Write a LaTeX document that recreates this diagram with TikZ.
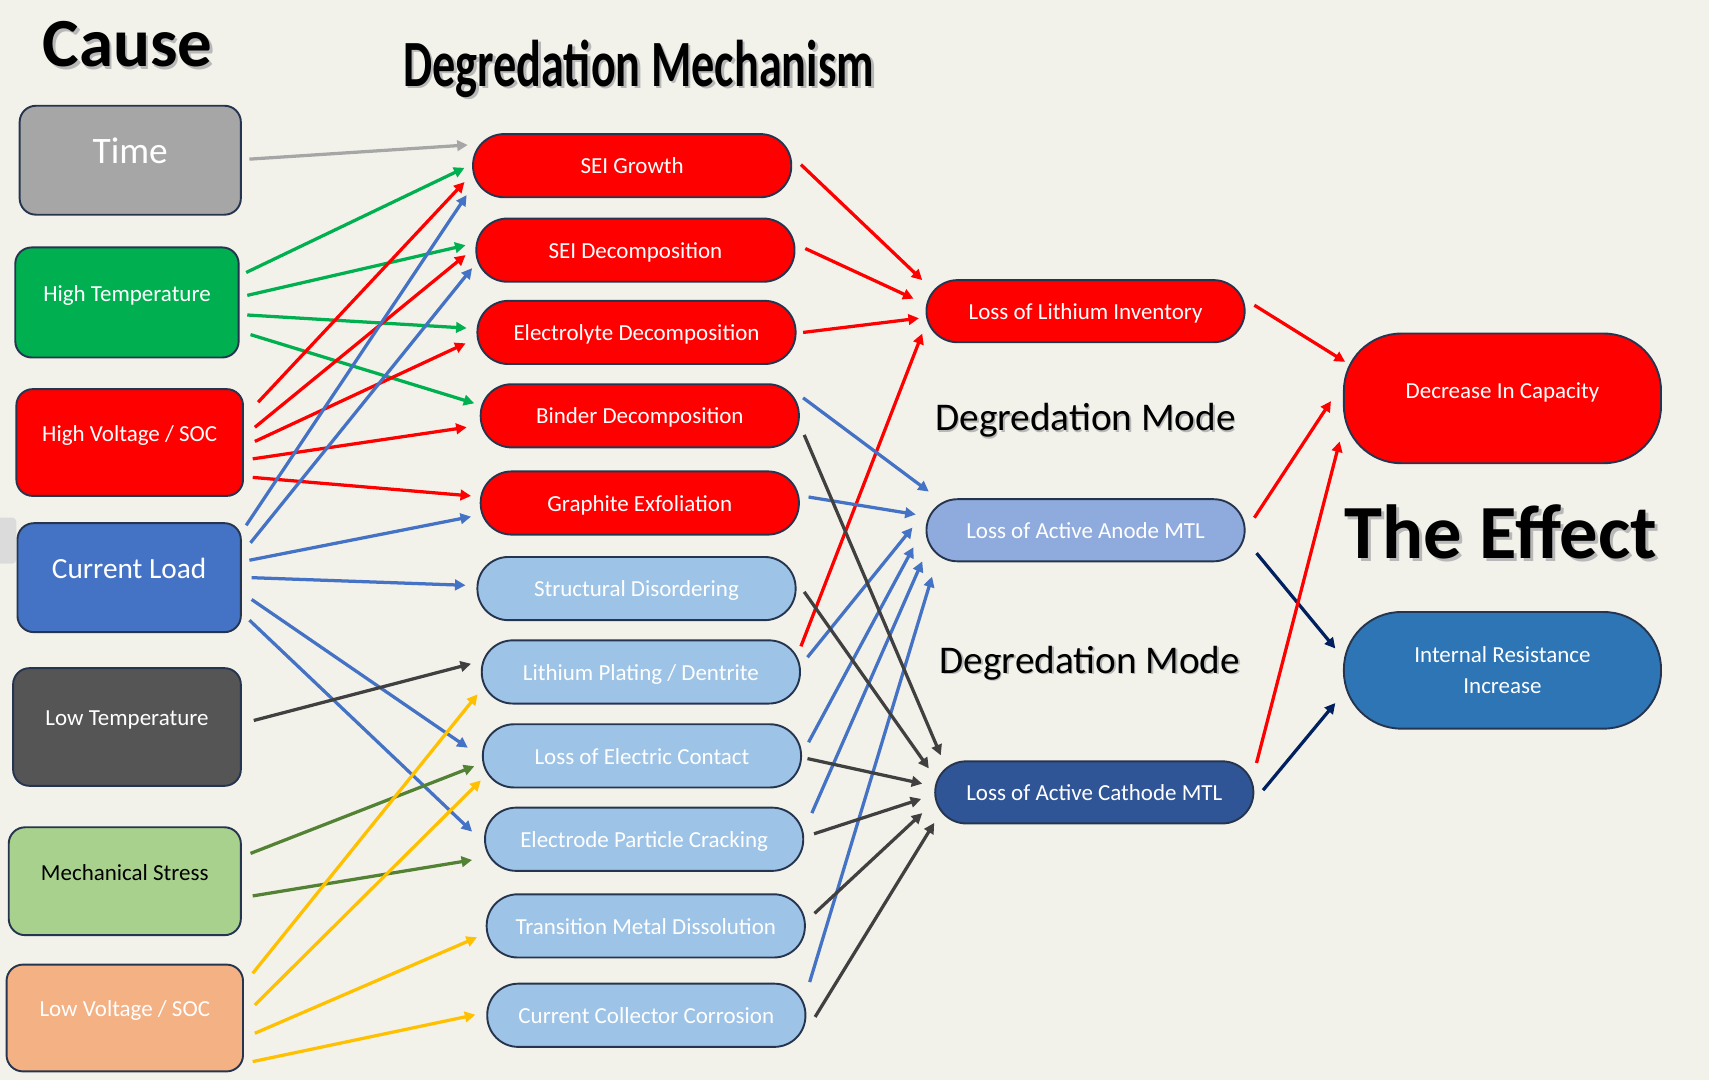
\documentclass[tikz,border=0pt]{standalone}
\usepackage{fontspec}
\setmainfont{Carlito}
\newfontfamily\narrowfont[FakeStretch=0.7]{Carlito}
\usepackage{tikz}
\usetikzlibrary{arrows.meta,positioning}
\definecolor{paper}{HTML}{F3F2EA}
\definecolor{rim}{HTML}{26354F}
\definecolor{timegray}{HTML}{A6A6A6}
\definecolor{hotgreen}{HTML}{00B050}
\definecolor{loadblue}{HTML}{4472C4}
\definecolor{coldgray}{HTML}{555555}
\definecolor{stressgreen}{HTML}{A9D18E}
\definecolor{lvorange}{HTML}{F4B183}
\definecolor{mechblue}{HTML}{9DC3E6}
\definecolor{anodeblue}{HTML}{8FAADC}
\definecolor{cathblue}{HTML}{2F5597}
\definecolor{resblue}{HTML}{2E75B6}
\definecolor{darkline}{HTML}{404040}
\definecolor{stressline}{HTML}{548235}
\definecolor{lvyellow}{HTML}{FFC000}
\definecolor{navyline}{HTML}{002060}
\newcommand\shadowed[1]{\leavevmode\rlap{\kern0.04em\raisebox{-0.04em}{\color{black!28}#1}}#1}

\begin{document}
\begin{tikzpicture}[x=0.02cm,y=-0.02cm,
  cause/.style={draw=rim,line width=1pt,rounded corners=0.3cm,inner sep=0pt,text=white,
    text height=0.28cm,text depth=0.32cm,font=\fontsize{12}{14}\selectfont},
  mech/.style={draw=rim,line width=1pt,rounded corners=0.57cm,inner sep=0pt,text=white,
    minimum width=5.84cm,minimum height=1.16cm,text height=0.3cm,text depth=0cm,
    font=\fontsize{12}{14}\selectfont},
  effect/.style={draw=rim,line width=1pt,rounded corners=1.05cm,inner sep=0pt,text=white,
    minimum width=5.82cm,align=center,font=\fontsize{12}{16}\selectfont},
  heading/.style={anchor=base,inner sep=0pt},
  ar/.style={line width=1.7pt,-{Triangle[length=5.5pt,width=5.5pt]}}]
\fill[paper] (0,0) rectangle (1568,991);
\useasboundingbox (0,0) rectangle (1568,991);
\fill[black!14,rounded corners=2pt] (-6,475) rectangle (15,517);

\node[heading,font=\bfseries\fontsize{36}{40}\selectfont] (tcause) at (117,61) {\shadowed{Cause}};
\node[heading,font=\narrowfont\bfseries\fontsize{34.5}{38}\selectfont] (tmech) at (586,79) {\shadowed{Degredation Mechanism}};
\node[heading,font=\fontsize{20.5}{24}\selectfont] (tmode1) at (996,395) {\shadowed{Degredation Mode}};
\node[heading,font=\fontsize{20.5}{24}\selectfont] (tmode2) at (1000,617.5) {\shadowed{Degredation Mode}};
\node[heading,font=\bfseries\fontsize{40}{44}\selectfont] (teffect) at (1377,512) {\shadowed{The Effect}};

\node[cause,fill=timegray,minimum width=4.06cm,minimum height=2cm,text height=0.43cm,
  font=\fontsize{19.5}{22}\selectfont] (tm) at (119.5,147) {Time};
\node[cause,fill=hotgreen,minimum width=4.1cm,minimum height=2.02cm] (ht) at (116.5,277.5) {High Temperature};
\node[cause,fill=red,minimum width=4.16cm,minimum height=1.96cm] (hv) at (119,406) {High Voltage / SOC};
\node[cause,fill=loadblue,minimum width=4.1cm,minimum height=2cm,text height=0.34cm,
  font=\fontsize{15.3}{18}\selectfont] (cl) at (118.5,530) {Current Load};
\node[cause,fill=coldgray,minimum width=4.18cm,minimum height=2.16cm] (lt) at (116.5,667) {Low Temperature};
\node[cause,fill=stressgreen,text=black,minimum width=4.26cm,minimum height=1.98cm] (ms) at (114.5,808.5) {Mechanical Stress};
\node[cause,fill=lvorange,minimum width=4.34cm,minimum height=1.96cm] (lv) at (114.5,934) {Low Voltage / SOC};

\node[mech,fill=red] (sg) at (580,152) {SEI Growth};
\node[mech,fill=red] (sd) at (583,229.5) {SEI Decomposition};
\node[mech,fill=red] (ed) at (584,305) {Electrolyte Decomposition};
\node[mech,fill=red] (bd) at (587,381.5) {Binder Decomposition};
\node[mech,fill=red] (gx) at (587,461.5) {Graphite Exfoliation};
\node[mech,fill=mechblue] (sdo) at (584,540) {Structural Disordering};
\node[mech,fill=mechblue] (lp) at (588,616.5) {Lithium Plating / Dentrite};
\node[mech,fill=mechblue] (lec) at (589,693.5) {Loss of Electric Contact};
\node[mech,fill=mechblue] (epc) at (591,770) {Electrode Particle Cracking};
\node[mech,fill=mechblue] (tmd) at (592.5,849.5) {Transition Metal Dissolution};
\node[mech,fill=mechblue] (ccc) at (593,931.5) {Current Collector Corrosion};

\node[mech,fill=red,minimum height=1.14cm] (lli) at (996,285.5) {Loss of Lithium Inventory};
\node[mech,fill=anodeblue,minimum height=1.14cm] (laa) at (996,486.5) {Loss of Active Anode MTL};
\node[mech,fill=cathblue,minimum height=1.14cm] (lac) at (1004,727) {Loss of Active Cathode MTL};

\node[effect,fill=red,minimum height=2.38cm,text height=0.28cm,text depth=0.28cm] (cap) at (1378.5,365.5) {Decrease In Capacity};
\node[effect,fill=resblue,minimum height=2.14cm] (res) at (1378.5,615) {Internal Resistance\\Increase};

\draw[ar,timegray] ([shift={(7,-1)}]tm.east) -- ([shift={(-4,-19)}]sg.west);

\draw[ar,hotgreen] ([shift={(6,-27.5)}]ht.east) -- ([shift={(-7,2)}]sg.west);
\draw[ar,hotgreen] ([shift={(7,-6.5)}]ht.east) -- ([shift={(-9,-4.5)}]sd.west);
\draw[ar,hotgreen] ([shift={(7,11.5)}]ht.east) -- ([shift={(-9,-4)}]ed.west);
\draw[ar,hotgreen] ([shift={(10,29.5)}]ht.east) -- ([shift={(-5,-11.5)}]bd.west);

\draw[ar,red] ([shift={(13,-37)}]hv.east) -- ([shift={(-7,15)}]sg.west);
\draw[ar,red] ([shift={(10,-14)}]hv.east) -- ([shift={(-9,4.5)}]sd.west);
\draw[ar,red] ([shift={(10,-1)}]hv.east) -- ([shift={(-10,10)}]ed.west);
\draw[ar,red] ([shift={(8,15)}]hv.east) -- ([shift={(-12,10.5)}]bd.west);
\draw[ar,red] ([shift={(8,32)}]hv.east) -- ([shift={(-8,-6.5)}]gx.west);

\draw[ar,loadblue] ([shift={(4,-48)}]cl.east) -- ([shift={(-5,27)}]sg.west);
\draw[ar,loadblue] ([shift={(8,-32)}]cl.east) -- ([shift={(-3,16.5)}]sd.west);
\draw[ar,loadblue] ([shift={(7,-16)}]cl.east) -- ([shift={(-8,12.5)}]gx.west);
\draw[ar,loadblue] ([shift={(9,0)}]cl.east) -- ([shift={(-10,-3)}]sdo.west);
\draw[ar,loadblue] ([shift={(9,20)}]cl.east) -- ([shift={(-13,-7.5)}]lec.west);
\draw[ar,loadblue] ([shift={(7,39)}]cl.east) -- ([shift={(-11,-7)}]epc.west);

\draw[ar,darkline] ([shift={(11,-6)}]lt.east) -- ([shift={(-9,-7.5)}]lp.west);

\draw[ar,stressline] ([shift={(8,-25.5)}]ms.east) -- ([shift={(-7,9.5)}]lec.west);
\draw[ar,stressline] ([shift={(10,13.5)}]ms.east) -- ([shift={(-11,19)}]epc.west);

\draw[ar,lvyellow] ([shift={(8,-41)}]lv.east) -- ([shift={(-3,20.5)}]lp.west);
\draw[ar,lvyellow] ([shift={(10,-12)}]lv.east) -- ([shift={(-1,22.5)}]lec.west);
\draw[ar,lvyellow] ([shift={(10,14)}]lv.east) -- ([shift={(-8,10.5)}]tmd.west);
\draw[ar,lvyellow] ([shift={(8,40)}]lv.east) -- ([shift={(-10,-0.5)}]ccc.west);

\draw[ar,red] ([shift={(8,-1)}]sg.east) -- ([shift={(-3,-28.5)}]lli.west);
\draw[ar,red] ([shift={(9,-1.5)}]sd.east) -- ([shift={(-11,-11.5)}]lli.west);
\draw[ar,red] ([shift={(6,0)}]ed.east) -- ([shift={(-6,6.5)}]lli.west);
\draw[ar,red] ([shift={(0,-23.5)}]lp.east) -- ([shift={(-3,20.5)}]lli.west);

\draw[ar,loadblue] ([shift={(3,-16.5)}]bd.east) -- ([shift={(3,-35.5)}]laa.west);
\draw[ar,loadblue] ([shift={(8,-5.5)}]gx.east) -- ([shift={(-9,-14.5)}]laa.west);
\draw[ar,loadblue] ([shift={(6,-13.5)}]lp.east) -- ([shift={(-12,-2.5)}]laa.west);
\draw[ar,loadblue] ([shift={(6,-12.5)}]lec.east) -- ([shift={(-11,15.5)}]laa.west);
\draw[ar,loadblue] ([shift={(7,-24)}]epc.east) -- ([shift={(-3,28.5)}]laa.west);
\draw[ar,loadblue] ([shift={(3,-30.5)}]ccc.east) -- ([shift={(6,42.5)}]laa.west);

\draw[ar,darkline] ([shift={(4,17.5)}]bd.east) -- ([shift={(6,-34)}]lac.west);
\draw[ar,darkline] ([shift={(7,3)}]sdo.east) -- ([shift={(-5,-22)}]lac.west);
\draw[ar,darkline] ([shift={(5,2.5)}]lec.east) -- ([shift={(-11,-8)}]lac.west);
\draw[ar,darkline] ([shift={(9,-5)}]epc.east) -- ([shift={(-12,6)}]lac.west);
\draw[ar,darkline] ([shift={(8,-11.5)}]tmd.east) -- ([shift={(-11,19)}]lac.west);
\draw[ar,darkline] ([shift={(8,1.5)}]ccc.east) -- ([shift={(0,28)}]lac.west);

\draw[ar,red] ([shift={(8,-5.5)}]lli.east) -- ([shift={(2,-33.5)}]cap.west);
\draw[ar,red] ([shift={(8,-11.5)}]laa.east) -- ([shift={(-11,2.5)}]cap.west);
\draw[ar,navyline] ([shift={(10,21)}]laa.east) -- ([shift={(-7,-20)}]res.west);
\draw[ar,red] ([shift={(2,-27)}]lac.east) -- ([shift={(-3,39.5)}]cap.west);
\draw[ar,navyline] ([shift={(8,-2)}]lac.east) -- ([shift={(-7,30)}]res.west);
\end{tikzpicture}
\end{document}
